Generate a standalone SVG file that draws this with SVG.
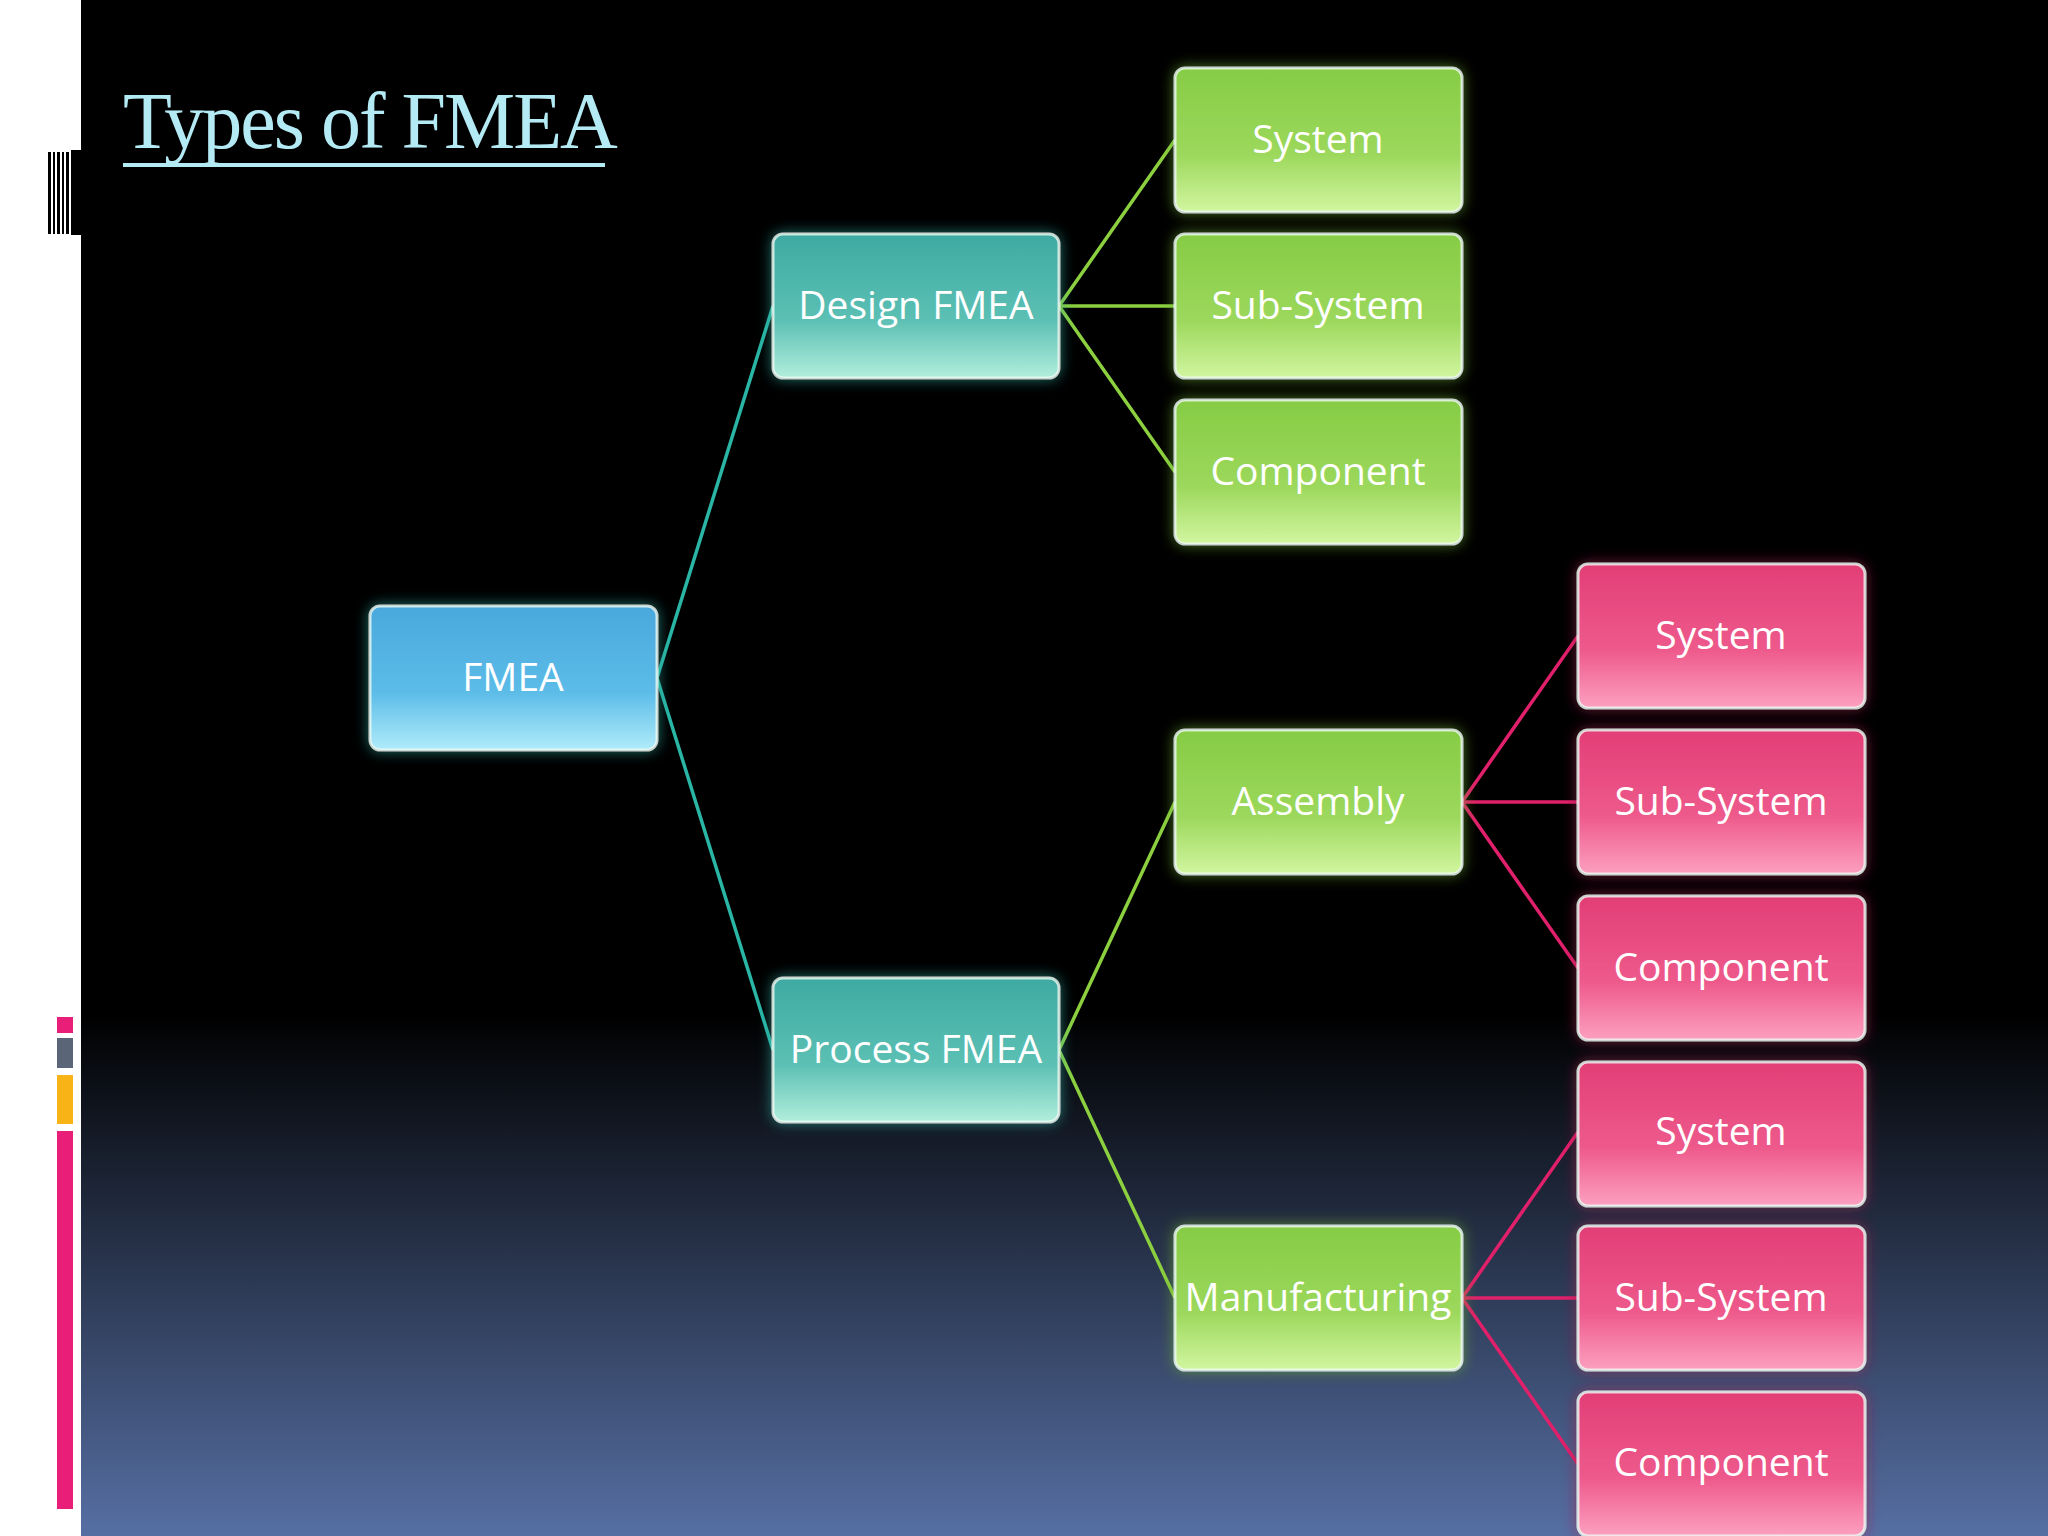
<svg xmlns="http://www.w3.org/2000/svg" width="2048" height="1536" viewBox="0 0 2048 1536">
<defs>
<linearGradient id="bg" x1="0" y1="0" x2="0" y2="1"><stop offset="0" stop-color="#000"/><stop offset="0.66" stop-color="#000"/><stop offset="1" stop-color="#566fa3"/></linearGradient>
<linearGradient id="gBlue" x1="0" y1="0" x2="0" y2="1"><stop offset="0" stop-color="#4aa8dc"/><stop offset="0.6" stop-color="#5cbce8"/><stop offset="1" stop-color="#b0ecfa"/></linearGradient>
<linearGradient id="gTeal" x1="0" y1="0" x2="0" y2="1"><stop offset="0" stop-color="#3eaaa2"/><stop offset="0.6" stop-color="#5cc0b4"/><stop offset="1" stop-color="#b2eedc"/></linearGradient>
<linearGradient id="gGreen" x1="0" y1="0" x2="0" y2="1"><stop offset="0" stop-color="#86cc44"/><stop offset="0.6" stop-color="#9cd85c"/><stop offset="1" stop-color="#d2f6a0"/></linearGradient>
<linearGradient id="gPink" x1="0" y1="0" x2="0" y2="1"><stop offset="0" stop-color="#e23e76"/><stop offset="0.6" stop-color="#ee5a8c"/><stop offset="1" stop-color="#fca0c0"/></linearGradient>
<filter id="glowB" x="-20%" y="-30%" width="140%" height="160%"><feGaussianBlur in="SourceAlpha" stdDeviation="7"/><feFlood flood-color="#3ab0e0" flood-opacity="0.7"/><feComposite operator="in" in2="" /><feMerge><feMergeNode/><feMergeNode in="SourceGraphic"/></feMerge></filter>
<filter id="glowT" x="-20%" y="-30%" width="140%" height="160%"><feGaussianBlur in="SourceAlpha" stdDeviation="7" result="b"/><feFlood flood-color="#2aa89c" flood-opacity="0.7"/><feComposite operator="in" in2="b"/><feMerge><feMergeNode/><feMergeNode in="SourceGraphic"/></feMerge></filter>
<filter id="glowG" x="-20%" y="-30%" width="140%" height="160%"><feGaussianBlur in="SourceAlpha" stdDeviation="7" result="b"/><feFlood flood-color="#6aa82a" flood-opacity="0.7"/><feComposite operator="in" in2="b"/><feMerge><feMergeNode/><feMergeNode in="SourceGraphic"/></feMerge></filter>
<filter id="glowP" x="-20%" y="-30%" width="140%" height="160%"><feGaussianBlur in="SourceAlpha" stdDeviation="7" result="b"/><feFlood flood-color="#a0204c" flood-opacity="0.7"/><feComposite operator="in" in2="b"/><feMerge><feMergeNode/><feMergeNode in="SourceGraphic"/></feMerge></filter>
<style>
.n rect{stroke:#eefaf4;stroke-width:3;stroke-opacity:0.8}
.n text{font-family:"Open Sans","DejaVu Sans",sans-serif;font-size:39px;fill:#fff;text-anchor:middle}
.b rect{fill:url(#gBlue);filter:url(#glowT)}
.t rect{fill:url(#gTeal);filter:url(#glowT)}
.g rect{fill:url(#gGreen);filter:url(#glowG)}
.p rect{fill:url(#gPink);filter:url(#glowP)}
#connectors path{fill:none;stroke-width:3.5}
</style>
</defs>
<rect width="2048" height="1536" fill="url(#bg)"/>
<rect width="81" height="1536" fill="#fff"/>
<g fill="#000"><rect x="48" y="152" width="3" height="82"/><rect x="53" y="152" width="2" height="82"/><rect x="57" y="152" width="3" height="82"/><rect x="62" y="152" width="2" height="82"/><rect x="66" y="152" width="3" height="82"/><rect x="71" y="150" width="10" height="85"/></g>
<rect x="57" y="1017" width="16" height="16" fill="#e91e78"/>
<rect x="57" y="1038" width="16" height="30" fill="#5a6578"/>
<rect x="57" y="1075" width="16" height="49" fill="#f8b316"/>
<rect x="57" y="1131" width="16" height="378" fill="#e91e78"/>
<text x="123" y="148" font-family="Liberation Serif, serif" font-size="80" fill="#b4eaf4" letter-spacing="-2">Types of FMEA</text>
<rect x="123" y="163" width="482" height="4" fill="#b4eaf4"/>
<g id="connectors">
<path stroke="#2ab5a5" d="M657 678L773 306M657 678L773 1050"/>
<path stroke="#8cd040" d="M1059 306L1175 140M1059 306L1175 306M1059 306L1175 472M1059 1050L1175 802M1059 1050L1175 1298"/>
<path stroke="#e0206a" d="M1462 802L1578 636M1462 802L1578 802M1462 802L1578 968M1462 1298L1578 1132M1462 1298L1578 1298M1462 1298L1578 1464"/>
</g>
<g id="fmea" class="n b"><rect x="370" y="606" width="287" height="144" rx="10"/><text x="513" y="691">FMEA</text></g>
<g id="design" class="n t"><rect x="773" y="234" width="286" height="144" rx="10"/><text x="916" y="319">Design FMEA</text></g>
<g id="process" class="n t"><rect x="773" y="978" width="286" height="144" rx="10"/><text x="916" y="1063">Process FMEA</text></g>
<g id="d-system" class="n g"><rect x="1175" y="68" width="287" height="144" rx="10"/><text x="1318" y="153">System</text></g>
<g id="d-subsystem" class="n g"><rect x="1175" y="234" width="287" height="144" rx="10"/><text x="1318" y="319">Sub-System</text></g>
<g id="d-component" class="n g"><rect x="1175" y="400" width="287" height="144" rx="10"/><text x="1318" y="485">Component</text></g>
<g id="assembly" class="n g"><rect x="1175" y="730" width="287" height="144" rx="10"/><text x="1318" y="815">Assembly</text></g>
<g id="manufacturing" class="n g"><rect x="1175" y="1226" width="287" height="144" rx="10"/><text x="1318" y="1311">Manufacturing</text></g>
<g id="a-system" class="n p"><rect x="1578" y="564" width="287" height="144" rx="10"/><text x="1721" y="649">System</text></g>
<g id="a-subsystem" class="n p"><rect x="1578" y="730" width="287" height="144" rx="10"/><text x="1721" y="815">Sub-System</text></g>
<g id="a-component" class="n p"><rect x="1578" y="896" width="287" height="144" rx="10"/><text x="1721" y="981">Component</text></g>
<g id="m-system" class="n p"><rect x="1578" y="1062" width="287" height="144" rx="10"/><text x="1721" y="1145">System</text></g>
<g id="m-subsystem" class="n p"><rect x="1578" y="1226" width="287" height="144" rx="10"/><text x="1721" y="1311">Sub-System</text></g>
<g id="m-component" class="n p"><rect x="1578" y="1392" width="287" height="144" rx="10"/><text x="1721" y="1476">Component</text></g>
</svg>
